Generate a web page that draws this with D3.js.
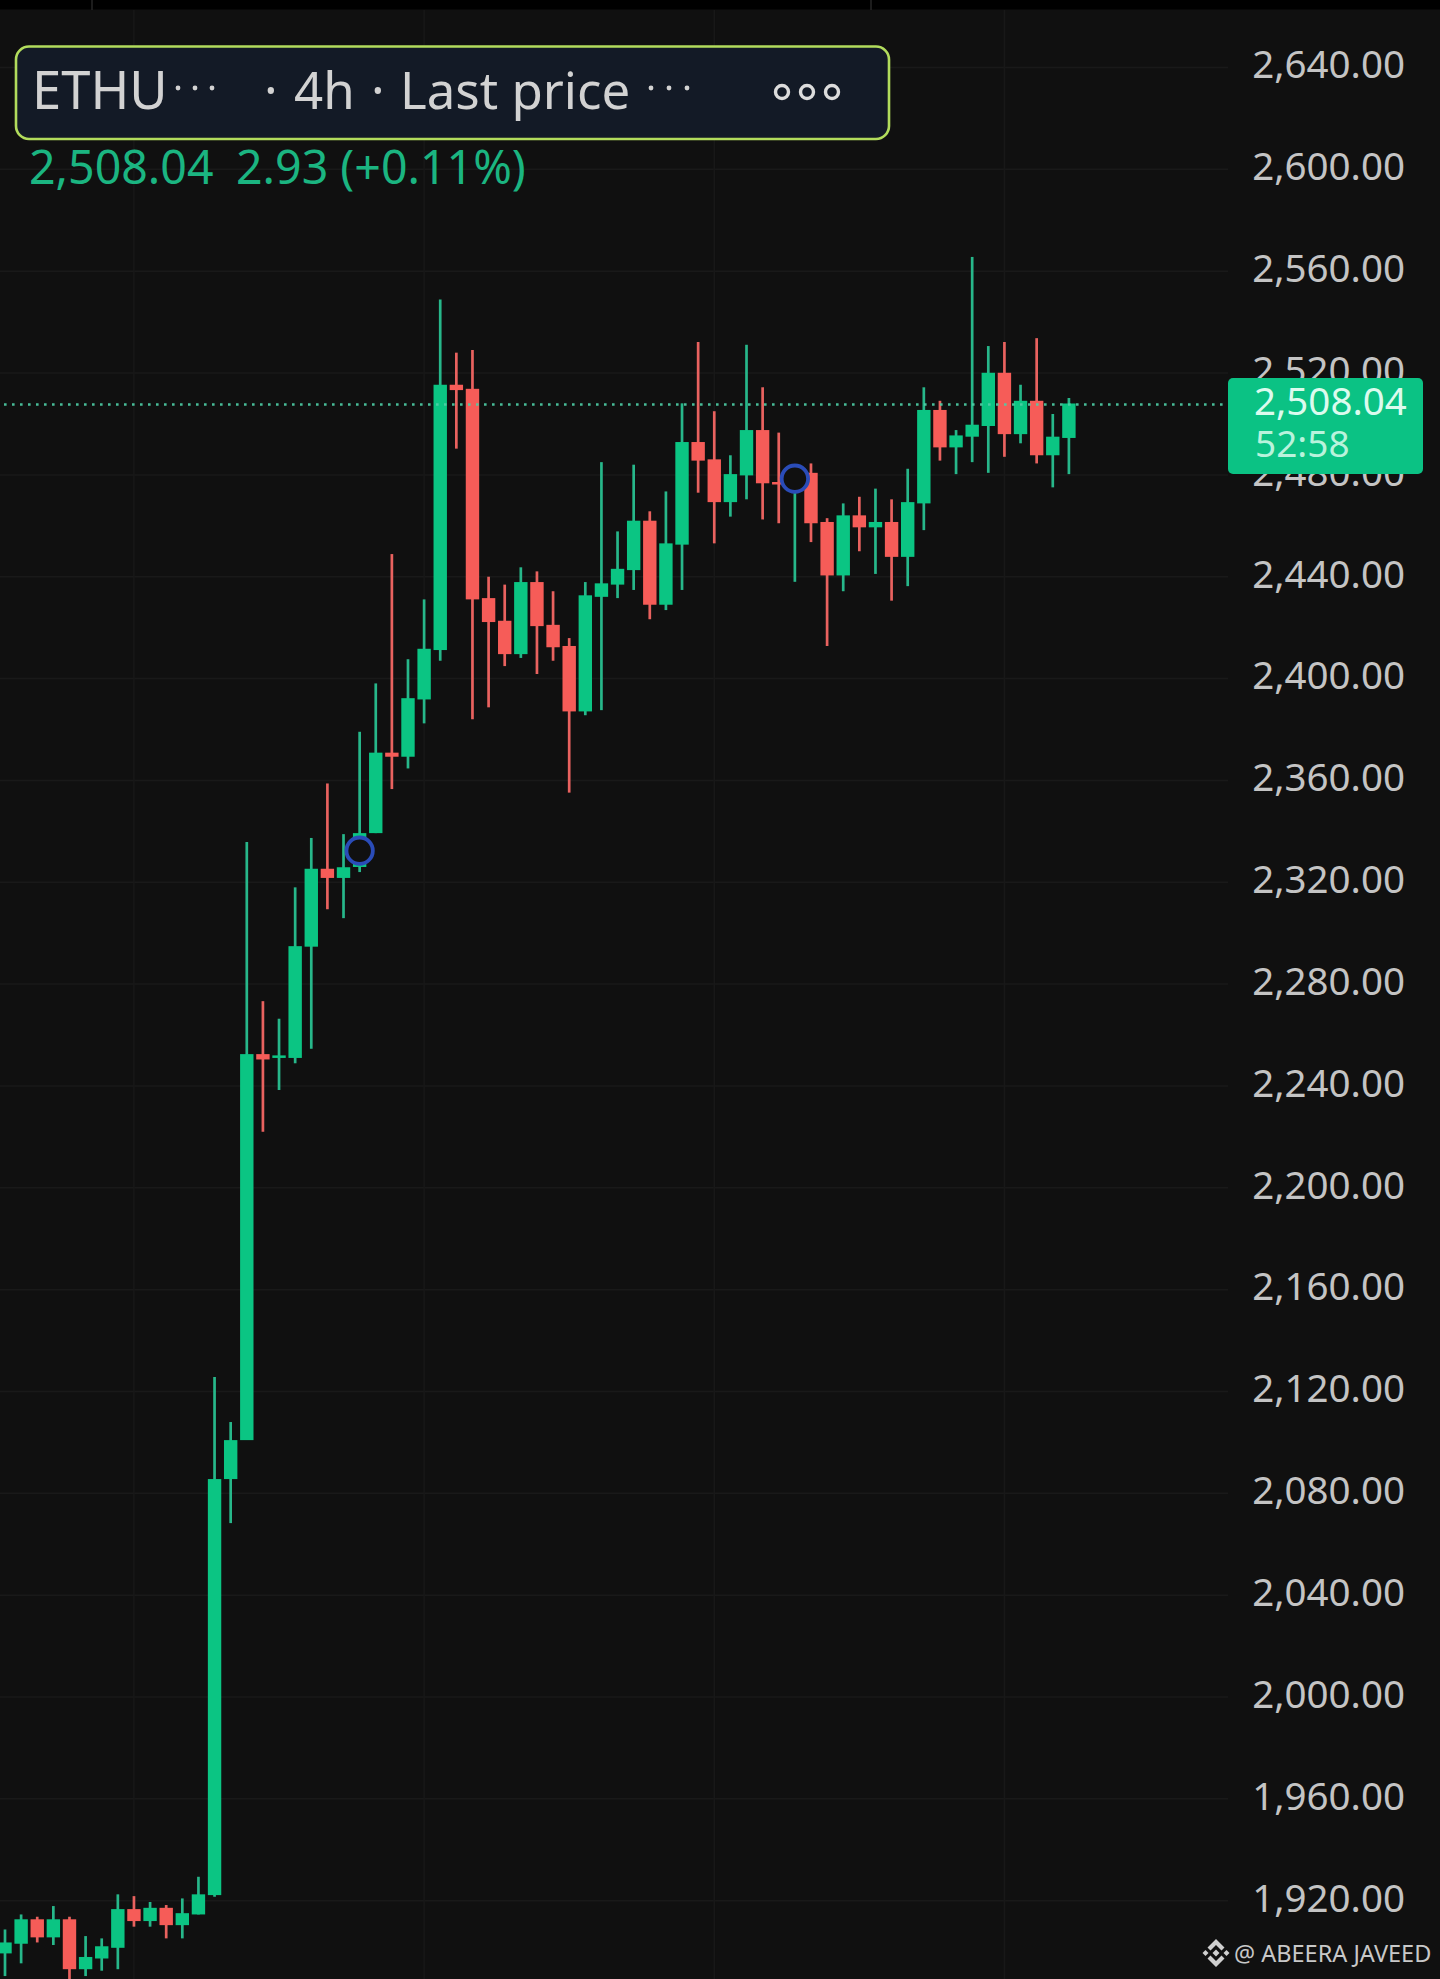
<!DOCTYPE html>
<html>
<head>
<meta charset="utf-8">
<script src="https://cdn.jsdelivr.net/npm/d3@7"></script>
<style>
  html, body { margin: 0; padding: 0; background: #101010; }
  svg { display: block; }
  text { font-family: "Noto Sans", sans-serif; }
</style>
</head>
<body>
<div id="chart"></div>
<script>
// candles, oldest first
const opens = [1899.3,1903.1,1912.7,1905.6,1912.7,1893.1,1897.3,1901.5,1916.7,1912,1917.2,1910.4,1914.6,1922.2,2085.6,2100.9,2252.5,2251,2251,2294.7,2325.3,2321.7,2326,2339.3,2370.9,2369.3,2391.8,2411.2,2515.4,2513.8,2431.6,2422.7,2409.6,2437.9,2421.1,2412.8,2387.1,2432.1,2436.9,2442.6,2462,2429,2452.6,2492.9,2486.1,2469.3,2479.8,2497.6,2477.2,2476.4,2480.8,2461.5,2440.5,2464.1,2459.4,2461.5,2447.8,2468.8,2505.5,2490.8,2495,2499.2,2520.1,2496,2509.1,2487.7,2494.5];
const highs = [1908.7,1914.6,1913.7,1917.9,1913.7,1906.1,1905.2,1922.5,1921.8,1919.5,1918.3,1920.9,1929.4,2125.7,2108,2335.8,2273.3,2266.4,2318,2337.4,2358.8,2338.9,2379.1,2398.1,2448.9,2407.6,2431.1,2548.9,2528,2529,2440,2436.9,2443.7,2442.1,2434.3,2415.9,2437.9,2485,2457.8,2484,2465.7,2473.5,2508.1,2532.2,2505,2487.7,2531.1,2514.4,2496.6,2482,2484.5,2463,2468.8,2471.4,2474.6,2470.4,2482.4,2514.4,2509.1,2497.6,2565.6,2530.6,2532.2,2515.4,2533.7,2503.9,2510.2];
const lows = [1890.4,1895.4,1903.6,1902.6,1886.8,1890.4,1892.5,1893.1,1909.8,1909.8,1905.2,1905.2,1914.6,1921.6,2068.3,2100.9,2222,2238.4,2248.9,2254.6,2309.4,2305.9,2324,2339.3,2356.6,2364.7,2382.4,2407,2490.3,2384,2388.7,2404.9,2408.1,2401.8,2407,2355.2,2385.6,2387.6,2431.6,2434.8,2423.3,2426.9,2434.8,2473,2453.1,2463.6,2470.4,2462.5,2461,2438,2453.6,2412.8,2434.3,2450,2441.1,2430.6,2436.3,2458.3,2485.6,2480.3,2485,2480.8,2487.1,2492.4,2484.5,2475.1,2480.3];
const closes = [1903.6,1912.7,1905.6,1912.7,1893.1,1897.9,1902.1,1916.7,1912,1917.2,1910.4,1915.1,1922.5,2085.6,2100.9,2252.5,2250.4,2252,2294.9,2325.3,2321.7,2325.9,2339.3,2370.9,2369.3,2392.3,2411.7,2515.4,2513.3,2431.1,2422.2,2409.6,2437.9,2420.6,2412.3,2387.1,2432.7,2437.4,2443.1,2462,2429,2453.1,2492.9,2485.6,2469.3,2480.3,2497.6,2476.7,2476.4,2480.8,2461,2440.5,2464.1,2459.4,2461.5,2447.8,2469.3,2505.5,2490.8,2495.5,2499.7,2520.1,2496,2509.1,2487.7,2495,2508.04];

const priceTicks = [1920,1960,2000,2040,2080,2120,2160,2200,2240,2280,2320,2360,2400,2440,2480,2520,2560,2600,2640];
const timeGrid = [8, 26, 44, 62];      // candle index of each vertical grid line
const markers = [{i: 22, price: 2332.4}, {i: 49, price: 2478.5}];
const lastPrice = 2508.04;

const W = 1440, H = 1979;
const plotRight = 1228;
const green = "#0bc583", red = "#f65c58";
const wickGreen = "#27b78a", wickRed = "#e9625f";

const x = d3.scaleLinear().domain([0, 66]).range([5, 1068.9]);
const y = d3.scaleLinear().domain([1920, 2640]).range([1900.7, 67.5]);
const bodyW = 13.4, wickW = 2.7;

const svg = d3.select("#chart").append("svg")
    .attr("width", W)
    .attr("height", H)
    .attr("viewBox", `0 0 ${W} ${H}`);

svg.append("rect").attr("width", W).attr("height", H).attr("fill", "#101010");

// black strip of the pane above, with its two time ticks
svg.append("rect").attr("width", W).attr("height", 9.5).attr("fill", "#000");
svg.selectAll(".topTick").data([92, 871]).join("line")
    .attr("class", "topTick")
    .attr("x1", d => d).attr("x2", d => d)
    .attr("y1", 0).attr("y2", 10)
    .attr("stroke", "#262626").attr("stroke-width", 1.5);

// grid
svg.append("g").selectAll("line").data(priceTicks).join("line")
    .attr("x1", 0).attr("x2", plotRight)
    .attr("y1", d => y(d)).attr("y2", d => y(d))
    .attr("stroke", "#191919").attr("stroke-width", 1.5);
svg.append("g").selectAll("line").data(timeGrid).join("line")
    .attr("x1", d => x(d)).attr("x2", d => x(d))
    .attr("y1", 10).attr("y2", H)
    .attr("stroke", "#181818").attr("stroke-width", 1.5);

// price axis
const axis = d3.axisRight(y)
    .tickValues(priceTicks)
    .tickFormat(d3.format(",.2f"))
    .tickSize(0)
    .tickPadding(0);
const axisG = svg.append("g")
    .attr("transform", "translate(1405,-2)")
    .call(axis);
axisG.select(".domain").remove();
axisG.selectAll("text")
    .attr("x", 0)
    .attr("text-anchor", "end")
    .attr("fill", "#c4c4c4")
    .style("font-size", "38.5px");

// candles
const idx = d3.range(closes.length);
const up = i => closes[i] >= opens[i];

svg.append("g").selectAll("line").data(idx).join("line")
    .attr("x1", i => x(i)).attr("x2", i => x(i))
    .attr("y1", i => y(highs[i])).attr("y2", i => y(lows[i]))
    .attr("stroke", i => up(i) ? wickGreen : wickRed)
    .attr("stroke-width", wickW);

svg.append("g").selectAll("rect").data(idx).join("rect")
    .attr("x", i => x(i) - bodyW / 2)
    .attr("y", i => y(Math.max(opens[i], closes[i])))
    .attr("width", bodyW)
    .attr("height", i => Math.max(2.5, Math.abs(y(opens[i]) - y(closes[i]))))
    .attr("fill", i => up(i) ? green : red);

// last price dotted line
svg.append("line")
    .attr("x1", 4).attr("x2", plotRight)
    .attr("y1", y(lastPrice) + 1).attr("y2", y(lastPrice) + 1)
    .attr("stroke", "#4fcfa6")
    .attr("stroke-opacity", 0.9)
    .attr("stroke-width", 2.6)
    .attr("stroke-dasharray", "2.6 5.4");

// blue order markers
svg.append("g").selectAll("circle").data(markers).join("circle")
    .attr("cx", d => x(d.i))
    .attr("cy", d => y(d.price))
    .attr("r", 13.2)
    .attr("fill", "#101010")
    .attr("stroke", "#2a4cb8")
    .attr("stroke-width", 3.8);

// last price tag, sits on top of the 2,520 and 2,480 labels
svg.append("rect")
    .attr("x", 1228).attr("y", 378)
    .attr("width", 195).attr("height", 96)
    .attr("rx", 5)
    .attr("fill", "#0bc284");
svg.append("text").attr("x", 1254).attr("y", 415)
    .attr("fill", "#dcfbee").style("font-size", "38.5px")
    .text(d3.format(",.2f")(lastPrice));
svg.append("text").attr("x", 1255).attr("y", 457)
    .attr("fill", "#b9f3dc").style("font-size", "37px")
    .text("52:58");

// legend box
svg.append("rect")
    .attr("x", 16).attr("y", 46.5)
    .attr("width", 873).attr("height", 92.5)
    .attr("rx", 13)
    .attr("fill", "#131a26")
    .attr("stroke", "#b2dc5c")
    .attr("stroke-width", 2.6);

const legendText = [
  {t: "ETHU", x: 32, size: 52.5},
  {t: "\u00b7", x: 264, size: 51},
  {t: "4h", x: 294, size: 51},
  {t: "\u00b7", x: 371, size: 51},
  {t: "Last price", x: 400, size: 51}
];
svg.append("g").selectAll("text").data(legendText).join("text")
    .attr("x", d => d.x).attr("y", 108.5)
    .attr("fill", "#d2d2d2")
    .style("font-size", d => d.size + "px")
    .text(d => d.t);

// the small ellipsis after cut off names
const ellipsisDots = [178, 195, 212, 651, 669, 687];
svg.append("g").selectAll("circle").data(ellipsisDots).join("circle")
    .attr("cx", d => d).attr("cy", 88).attr("r", 2.4)
    .attr("fill", "#d2d2d2");

// menu button
svg.append("g").selectAll("circle").data([782, 807, 832]).join("circle")
    .attr("cx", d => d).attr("cy", 92).attr("r", 6.5)
    .attr("fill", "none")
    .attr("stroke", "#dcdcdc")
    .attr("stroke-width", 3.4);

svg.append("text").attr("x", 29).attr("y", 184)
    .attr("fill", "#1bb581").style("font-size", "46.5px")
    .text("2,508.04");
svg.append("text").attr("x", 236).attr("y", 184)
    .attr("fill", "#1bb581").style("font-size", "46.5px")
    .text("2.93 (+0.11%)");

// watermark
const logo = svg.append("g")
    .attr("transform", "translate(1216,1953)")
    .attr("fill", "#cfcfcf");
logo.append("path").attr("d", "M0,-14 L8.5,-5.5 L5.5,-2.5 L0,-8 L-5.5,-2.5 L-8.5,-5.5 Z");
logo.append("path").attr("d", "M0,14 L8.5,5.5 L5.5,2.5 L0,8 L-5.5,2.5 L-8.5,5.5 Z");
logo.append("path").attr("d", "M0,-3.5 L3.5,0 L0,3.5 L-3.5,0 Z");
logo.append("path").attr("d", "M-10.5,-3 L-7.5,0 L-10.5,3 L-13.5,0 Z");
logo.append("path").attr("d", "M10.5,-3 L13.5,0 L10.5,3 L7.5,0 Z");

svg.append("text").attr("x", 1234).attr("y", 1961.5)
    .attr("fill", "#c8c8c8").style("font-size", "23.5px")
    .text("@ ABEERA JAVEED");
</script>
</body>
</html>
